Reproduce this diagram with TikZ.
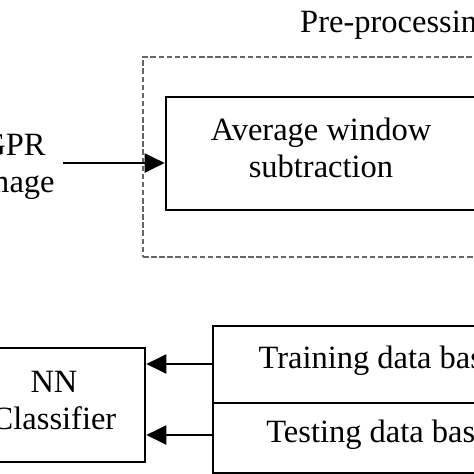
\documentclass[tikz,border=0pt]{standalone}
\usepackage{fontspec}
\setmainfont{Liberation Serif}
\usetikzlibrary{arrows.meta}
\begin{document}
\begin{tikzpicture}[x=1pt,y=-1pt,
  box/.style={draw=black,line width=2.6pt,inner sep=0pt,fill=white},
  frame/.style={draw=black!60,line width=2pt,dash pattern=on 5.5pt off 2.6pt,inner sep=0pt},
  txt/.style={inner sep=0pt,anchor=base,font=\fontsize{32.5}{37}\selectfont},
  conn/.style={line width=2pt,-{Triangle[length=20pt,width=19pt]}}]
\useasboundingbox (0,0) rectangle (474,474);
\clip (0,0) rectangle (474,474);
\fill[white] (0,0) rectangle (474,474);
% pre-processing frame
\node[frame,minimum width=356pt,minimum height=200pt] (pre) at (321,157) {};
\node[txt,anchor=base west] (pretxt) at (300,32) {Pre-processing};
% average window box
\node[box,minimum width=310pt,minimum height=113pt] (avg) at (321,153.5) {};
\node[txt] (avg1) at (321,140) {Average window};
\node[txt] (avg2) at (321,177) {subtraction};
% input
\node[txt] (in1) at (14,155) {GPR};
\node[txt] (in2) at (14,192) {Image};
\coordinate (inarrow) at (63,163);
\draw[conn] (inarrow) -- (inarrow -| avg.west);
% NN classifier
\node[box,minimum width=182pt,minimum height=114pt] (nn) at (54,405) {};
\node[txt] (nn1) at (54,392) {NN};
\node[txt] (nn2) at (54,429) {Classifier};
% databases
\node[box,minimum width=330pt,minimum height=77pt] (train) at (378,364.5) {};
\node[box,minimum width=330pt,minimum height=70pt] (test) at (378,438) {};
\node[txt] (train1) at (378,368) {Training data base};
\node[txt] (test1) at (378,442) {Testing data base};
\coordinate (a1) at (train.west |- 0,364);
\coordinate (a2) at (test.west |- 0,435);
\draw[conn] (a1) -- (a1 -| nn.east);
\draw[conn] (a2) -- (a2 -| nn.east);
\end{tikzpicture}
\end{document}
